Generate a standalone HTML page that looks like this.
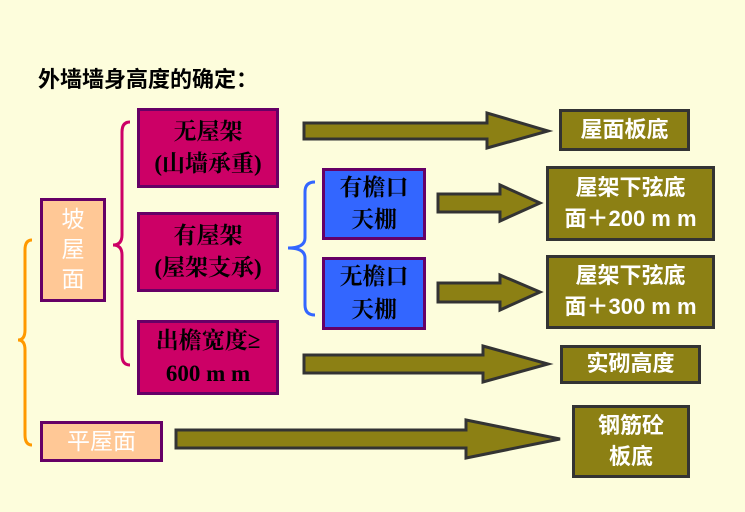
<!DOCTYPE html>
<html><head><meta charset="utf-8"><style>
html,body{margin:0;padding:0}
body{width:745px;height:512px;background:#fdfddc;position:relative;overflow:hidden;font-family:"Liberation Serif","Noto Serif CJK SC",serif}
.b{position:absolute;box-sizing:border-box;display:flex;align-items:center;justify-content:center;text-align:center;line-height:1.4}
.m{background:#cc0066;border:3px solid #660066;color:#000;font-size:23px;font-weight:bold}
.p{background:#ffc896;border:3px solid #660066;color:#fff;font-size:23px;font-family:"Liberation Sans","Noto Sans CJK SC",sans-serif}
.u{background:#3366ff;border:3px solid #660066;color:#000;font-size:23px;font-weight:bold}
.o{background:#8c8014;border:3px solid #333;color:#fff;font-size:22px;font-weight:bold;font-family:"Liberation Sans","Noto Sans CJK SC",sans-serif}
</style></head><body>
<div style="position:absolute;left:38px;top:62px;font-size:22px;font-weight:bold;font-family:'Liberation Sans','Noto Sans CJK SC',sans-serif">外墙墙身高度的确定：</div>
<svg width="745" height="512" style="position:absolute;left:0;top:0">
<g fill="none" stroke-width="3">
<path d="M32,240 Q25,240 25,250 L25,330 Q25,340 18,340 Q25,340 25,350 L25,435 Q25,445 32,445" stroke="#ff9900"/>
<path d="M130,122 Q122,122 122,132 L122,235 Q122,245 113,245 Q122,245 122,255 L122,355 Q122,365 130,365" stroke="#cc0066"/>
<path d="M315,182 Q305,182 305,192 L305,238 Q305,248 288,248 Q305,248 305,258 L305,305 Q305,315 315,315" stroke="#3366ff"/>
</g>
<g fill="#8c8014" stroke="#333" stroke-width="3">
<polygon points="304,123 487,123 487,113 548,131 487,148 487,139 304,139"/>
<polygon points="438,194 500,194 500,185 540,203 500,221 500,212 438,212"/>
<polygon points="438,283 500,283 500,275 540,292 500,310 500,302 438,302"/>
<polygon points="304,355 483,355 483,346 548,364 483,382 483,373 304,373"/>
<polygon points="176,430 466,430 466,420 560,439 466,458 466,448 176,448"/>
</g>
</svg>
<div class="b p" style="left:40px;top:198px;width:66px;height:104px;line-height:1.3">坡<br>屋<br>面</div>
<div class="b m" style="left:137px;top:108px;width:142px;height:80px">无屋架<br>(山墙承重)</div>
<div class="b m" style="left:137px;top:212px;width:142px;height:80px">有屋架<br>(屋架支承)</div>
<div class="b m" style="left:137px;top:320px;width:142px;height:75px">出檐宽度≥<br>600 m m</div>
<div class="b p" style="left:40px;top:421px;width:123px;height:41px">平屋面</div>
<div class="b u" style="left:322px;top:168px;width:104px;height:72px">有檐口<br>天棚</div>
<div class="b u" style="left:322px;top:257px;width:104px;height:73px">无檐口<br>天棚</div>
<div class="b o" style="left:559px;top:109px;width:131px;height:42px">屋面板底</div>
<div class="b o" style="left:546px;top:166px;width:169px;height:75px">屋架下弦底<br>面＋200 m m</div>
<div class="b o" style="left:546px;top:255px;width:169px;height:74px">屋架下弦底<br>面＋300 m m</div>
<div class="b o" style="left:560px;top:345px;width:141px;height:39px">实砌高度</div>
<div class="b o" style="left:572px;top:405px;width:118px;height:73px">钢筋砼<br>板底</div>
</body></html>
